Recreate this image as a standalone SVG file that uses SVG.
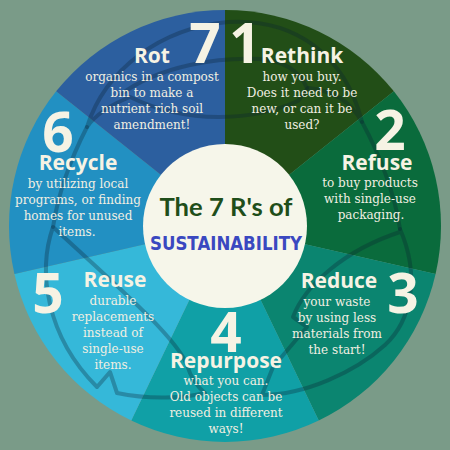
<svg xmlns="http://www.w3.org/2000/svg" width="450" height="450" viewBox="0 0 450 450">
<style>
.num{font-family:"Open Sans","Noto Sans",sans-serif;font-weight:700;font-size:55px;fill:#f6f3e4;text-anchor:middle}
.head{font-family:"Open Sans","Noto Sans",sans-serif;font-weight:700;font-size:21px;fill:#f6f3e4;text-anchor:middle}
.body{font-family:"DejaVu Serif","Liberation Serif",serif;font-size:12px;fill:#f1efe2;text-anchor:middle}
.leaf{fill:none;stroke:#0b2233;stroke-opacity:0.3;stroke-width:4;stroke-linejoin:round;stroke-linecap:round}
</style>
<rect width="450" height="450" fill="#7a9b88"/>
<g id="wheel">
<path d="M225,226 L225,10 A216,216 0 0 1 393.88,91.33 Z" fill="#224e17"/>
<path d="M225,226 L393.88,91.33 A216,216 0 0 1 435.58,274.06 Z" fill="#0a6b3c"/>
<path d="M225,226 L435.58,274.06 A216,216 0 0 1 318.72,420.61 Z" fill="#0b8570"/>
<path d="M225,226 L318.72,420.61 A216,216 0 0 1 131.28,420.61 Z" fill="#10a0a6"/>
<path d="M225,226 L131.28,420.61 A216,216 0 0 1 14.42,274.06 Z" fill="#35b8d9"/>
<path d="M225,226 L14.42,274.06 A216,216 0 0 1 56.12,91.33 Z" fill="#2290c2"/>
<path d="M225,226 L56.12,91.33 A216,216 0 0 1 225,10 Z" fill="#2c5f9f"/>
</g>
<g id="recycle-leaves">
<path class="leaf" d="M87,127 C105,70 160,28 228,22 C295,18 345,55 362,122 C350,100 330,90 308,88 L298,101 C255,120 190,126 130,97 C110,105 96,114 87,127 Z"/>
<path class="leaf" d="M120,95 C160,65 220,57 260,59 C285,61 300,72 307,88"/>
<path class="leaf" d="M87,127 C70,160 58,195 53,227"/>
<path class="leaf" d="M53,227 C38,270 45,335 97,387 L110,372 L117,393 C150,400 185,398 205,393 C195,385 190,375 187,365 C175,335 110,280 53,227 Z"/>
<path class="leaf" d="M362,122 C380,155 395,195 400,229"/>
<path class="leaf" d="M400,229 C420,275 412,320 385,345 C355,372 305,395 262,395 L273,367 L307,327 L293,317 C305,285 345,250 400,232 Z"/>
</g>
<g id="center">
<circle cx="225" cy="226" r="82" fill="#f6f6ea"/>
<text x="226" y="216" text-anchor="middle" textLength="133" lengthAdjust="spacingAndGlyphs" style="font-family:Lato,'Noto Sans',sans-serif;font-weight:700;font-size:25px;fill:#1f4e1a">The 7 R's of</text>
<text x="226" y="250" text-anchor="middle" textLength="152" lengthAdjust="spacingAndGlyphs" style="font-family:'DejaVu Sans','Liberation Sans',sans-serif;font-weight:700;font-size:20px;fill:#3a48c0">SUSTAINABILITY</text>
</g>
<g id="rethink">
<text class="num" x="245" y="63">1</text>
<text class="head" x="302" y="63">Rethink</text>
<text class="body" x="302" y="81">how you buy.</text>
<text class="body" x="302" y="97">Does it need to be</text>
<text class="body" x="302" y="113">new, or can it be</text>
<text class="body" x="302" y="129">used?</text>
</g>
<g id="refuse">
<text class="num" x="390" y="150">2</text>
<text class="head" x="377" y="170">Refuse</text>
<text class="body" x="370" y="187">to buy products</text>
<text class="body" x="370" y="203">with single-use</text>
<text class="body" x="371" y="219">packaging.</text>
</g>
<g id="reduce">
<text class="num" x="403" y="313">3</text>
<text class="head" x="339" y="288">Reduce</text>
<text class="body" x="337" y="306">your waste</text>
<text class="body" x="337" y="322">by using less</text>
<text class="body" x="337" y="338">materials from</text>
<text class="body" x="337" y="354">the start!</text>
</g>
<g id="repurpose">
<text class="num" x="226" y="352">4</text>
<text class="head" x="226" y="368">Repurpose</text>
<text class="body" x="226" y="385">what you can.</text>
<text class="body" x="226" y="401">Old objects can be</text>
<text class="body" x="226" y="417">reused in different</text>
<text class="body" x="226" y="433">ways!</text>
</g>
<g id="reuse">
<text class="num" x="48" y="313">5</text>
<text class="head" x="115" y="287">Reuse</text>
<text class="body" x="113" y="305">durable</text>
<text class="body" x="113" y="321">replacements</text>
<text class="body" x="113" y="337">instead of</text>
<text class="body" x="113" y="353">single-use</text>
<text class="body" x="113" y="369">items.</text>
</g>
<g id="recycle">
<text class="num" x="58" y="152">6</text>
<text class="head" x="78" y="170">Recycle</text>
<text class="body" x="78" y="188">by utilizing local</text>
<text class="body" x="78" y="204">programs, or finding</text>
<text class="body" x="78" y="220">homes for unused</text>
<text class="body" x="77" y="236">items.</text>
</g>
<g id="rot">
<text class="num" x="205" y="63">7</text>
<text class="head" x="152" y="63">Rot</text>
<text class="body" x="152" y="81">organics in a compost</text>
<text class="body" x="152" y="97">bin to make a</text>
<text class="body" x="152" y="113">nutrient rich soil</text>
<text class="body" x="152" y="129">amendment!</text>
</g>
</svg>
